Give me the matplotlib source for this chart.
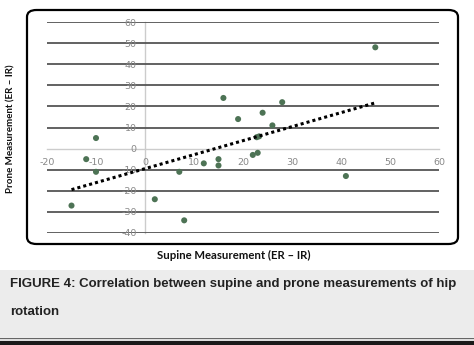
import numpy as np
import matplotlib
matplotlib.use("Agg")
import matplotlib.pyplot as plt
from matplotlib.patches import FancyBboxPatch, Rectangle

plt.rcParams['axes.unicode_minus'] = False

# ---- data ----
supine = [-15, -12, -10, -10, 2, 7, 8, 12, 15, 15, 16, 19, 22, 23, 22.8, 23.3, 24, 26, 28, 41, 47]
prone = [-27, -5, 5, -11, -24, -11, -34, -7, -5, -8, 24, 14, -3, -2, 5.4, 5.8, 17, 11, 22, -13, 48]
x_ticks = [-20, -10, 0, 10, 20, 30, 40, 50, 60]
y_ticks = [-40, -30, -20, -10, 0, 10, 20, 30, 40, 50, 60]
x_label = "Supine Measurement (ER \u2013 IR)"
y_label = "Prone Measurement (ER \u2013 IR)"
caption_lines = ["FIGURE 4: Correlation between supine and prone measurements of hip",
                 "rotation"]

W, H = 474, 345
fig = plt.figure(figsize=(W / 100, H / 100), dpi=100)

def fx(px):
    return px / W

def fy(py):
    return 1 - py / H

# chart frame (rounded border)
frame = FancyBboxPatch((fx(27), fy(244)), fx(458 - 27), (244 - 10) / H,
                       boxstyle="round,pad=0.0,rounding_size=0.02",
                       transform=fig.transFigure, fill=False,
                       edgecolor="black", linewidth=1.6)
fig.add_artist(frame)

# caption background
fig.add_artist(Rectangle((0, fy(338)), 1, (338 - 270) / H, transform=fig.transFigure,
                         facecolor="#ececec", edgecolor="none"))
fig.add_artist(Rectangle((0, fy(339.3)), 1, 1.3 / H, transform=fig.transFigure,
                         facecolor="#666666", edgecolor="none"))
fig.add_artist(Rectangle((0, fy(340.6)), 1, 1.3 / H, transform=fig.transFigure,
                         facecolor="#dddddd", edgecolor="none"))
fig.add_artist(Rectangle((0, 0), 1, (345 - 340.6) / H, transform=fig.transFigure,
                         facecolor="#1a1a1a", edgecolor="none"))
for line, ypx in zip(caption_lines, [284, 312]):
    fig.text(fx(10), fy(ypx), line, ha="left", va="center",
             fontfamily="Liberation Sans", fontweight="bold", fontsize=9.5,
             color="#222222")

# axes
ax = fig.add_axes([fx(47), fy(233), fx(439 - 47), (233 - 22) / H])
ax.set_xlim(-20, 60)
ax.set_ylim(-40, 60)
for ytk in y_ticks:
    if ytk != 0:
        ax.axhline(ytk, color="#555555", linewidth=1.3, zorder=1)
for s in ["top", "right"]:
    ax.spines[s].set_visible(False)
ax.spines["left"].set_position(("data", 0))
ax.spines["bottom"].set_position(("data", 0))
for s in ["left", "bottom"]:
    ax.spines[s].set_color("#cccccc")
    ax.spines[s].set_linewidth(1.0)
    ax.spines[s].set_zorder(0.5)
ax.set_xticks(x_ticks)
ax.set_yticks(y_ticks)
ax.tick_params(axis="both", length=0, labelsize=6.8, labelcolor="#888888")
ax.tick_params(axis="y", pad=6)
ax.tick_params(axis="x", pad=6.5)
ax.patch.set_visible(False)

# scatter
ax.scatter(supine, prone, s=19, color="#4d7355", edgecolors="none", zorder=3)

# linear trendline
xs = np.array(supine, dtype=float)
ys = np.array(prone, dtype=float)
m, b = np.polyfit(xs, ys, 1)
tx = np.array([xs.min(), xs.max()])
ax.plot(tx, m * tx + b, color="black", linewidth=2.2, linestyle=(0, (1, 1)), zorder=4)

# axis labels
fig.text(fx(234), fy(255), x_label, ha="center", va="center",
         fontfamily="Lato", fontweight="bold", fontsize=8.2, color="#111111")
fig.text(fx(11), fy(129), y_label, ha="center", va="center", rotation=90,
         fontfamily="Lato", fontweight="bold", fontsize=7.1, color="#111111")

fig.savefig("out.png", dpi=100)
